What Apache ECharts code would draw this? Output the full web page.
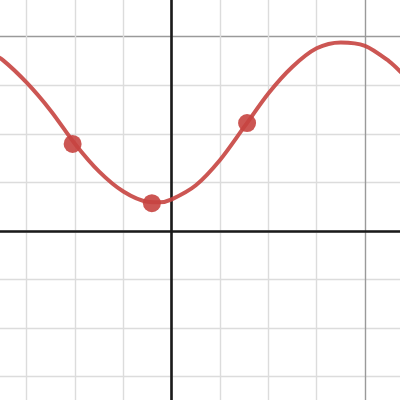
<!DOCTYPE html>
<html>
<head>
<meta charset="utf-8">
<script src="https://cdn.jsdelivr.net/npm/echarts@6/dist/echarts.min.js"></script>
<style>
  html, body { margin: 0; padding: 0; background: #fff; }
  #chart { width: 400px; height: 400px; }
</style>
</head>
<body>
<div id="chart"></div>
<script>
// fitted curve
const curveX = [-3.75, -3.5, -3, -2.5, -2, -1.5, -1, -0.5, -0.25, 0, 0.5, 1, 1.5, 2, 2.5, 3, 3.5, 4, 4.5, 4.75];
const curveY = [3.66, 3.52, 3.05, 2.47, 1.79, 1.22, 0.81, 0.60, 0.59, 0.65, 0.94, 1.46, 2.14, 2.83, 3.38, 3.76, 3.88, 3.81, 3.49, 3.26];

// data points
const ptsX = [-2.05, -0.41, 1.56];
const ptsY = [1.79, 0.57, 2.22];

const RED = "#c74440";

const chart = echarts.init(document.getElementById("chart"));

const axisCommon = {
  type: "value",
  interval: 4,
  axisLabel: { show: false },
  axisTick: { show: false },
  axisLine: { show: true, onZero: true, lineStyle: { color: "#1a1a1a", width: 2.6 } },
  splitLine: { show: true, lineStyle: { color: "#9a9a9a", width: 1.4 } },
  minorTick: { show: false, splitNumber: 4 },
  minorSplitLine: { show: true, lineStyle: { color: "#dcdcdc", width: 1.4 } },
};

chart.setOption({
  animation: false,
  backgroundColor: "#fff",
  grid: {
    left: -21.6, right: -158.3, top: -157.7, bottom: -25.2,
    outerBoundsMode: "none",
    containLabel: false,
  },
  xAxis: Object.assign({ min: -4, max: 8 }, axisCommon),
  yAxis: Object.assign({ min: -4, max: 8 }, axisCommon),
  series: [
    {
      type: "line",
      data: curveX.map((x, i) => [x, curveY[i]]),
      smooth: 0.3,
      showSymbol: false,
      lineStyle: { color: RED, width: 4, opacity: 0.9 },
      z: 3,
    },
    {
      type: "scatter",
      data: ptsX.map((x, i) => [x, ptsY[i]]),
      symbolSize: 18,
      itemStyle: { color: RED, opacity: 0.9 },
      z: 4,
    },
  ],
});
</script>
</body>
</html>
